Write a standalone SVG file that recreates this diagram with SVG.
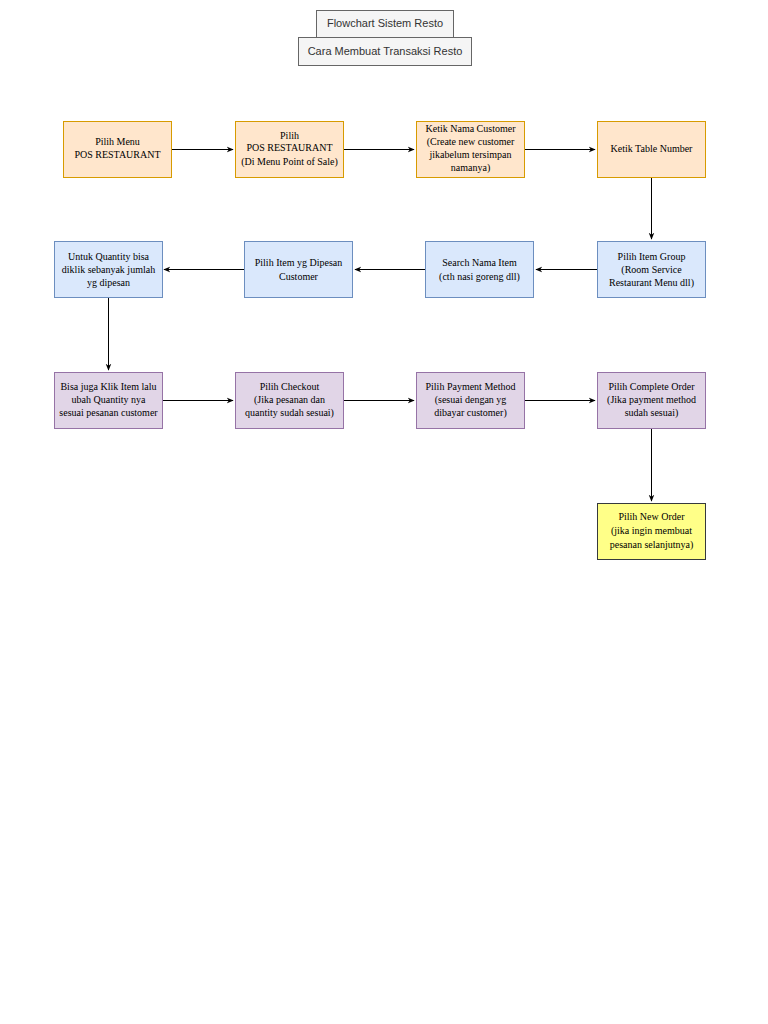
<svg xmlns="http://www.w3.org/2000/svg" width="768" height="1024" viewBox="0 0 768 1024">
<style>
.t{font-family:"Liberation Serif",serif;font-size:10px;fill:#000;text-anchor:middle}
.h{font-family:"Liberation Sans",Arial,sans-serif;font-size:11px;fill:#333;text-anchor:middle}
.o{fill:#ffe6cc;stroke:#d79b00}
.b{fill:#dae8fc;stroke:#6c8ebf}
.p{fill:#e1d5e7;stroke:#9673a6}
.y{fill:#ffff88;stroke:#36393d}
.g{fill:#f5f5f5;stroke:#666}
.c path{fill:none;stroke:#000;stroke-width:1;marker-end:url(#a)}
</style>
<defs><marker id="a" viewBox="0 0 10 10" refX="9" refY="5" markerWidth="7" markerHeight="7" orient="auto"><path d="M0,1 L10,5 L0,9 L3,5 z" fill="#000"/></marker></defs>
<rect width="768" height="1024" fill="#fff"/>
<g id="title1"><rect class="g" x="316.5" y="10.5" width="137" height="27"/><text class="h" x="385" y="27">Flowchart Sistem Resto</text></g>
<g id="title2"><rect class="g" x="298.5" y="37.5" width="173" height="28"/><text class="h" x="385" y="55">Cara Membuat Transaksi Resto</text></g>
<g class="c">
<path d="M172,149.5 H233"/><path d="M343,149.5 H414"/><path d="M524,149.5 H595"/>
<path d="M651.5,177 V239"/>
<path d="M597,269.5 H536"/><path d="M425,269.5 H355"/><path d="M244,269.5 H164"/>
<path d="M108.5,297 V370"/>
<path d="M162,400.5 H233"/><path d="M343,400.5 H414"/><path d="M524,400.5 H595"/>
<path d="M651.5,428 V501"/>
</g>
<g id="n1"><rect class="o" x="63.5" y="121.5" width="108" height="56"/><text class="t" x="117.5" y="145">Pilih Menu</text><text class="t" x="117.5" y="158">POS RESTAURANT</text></g>
<g id="n2"><rect class="o" x="235.5" y="121.5" width="108" height="56"/><text class="t" x="289.5" y="139">Pilih</text><text class="t" x="289.5" y="151">POS RESTAURANT</text><text class="t" x="289.5" y="165">(Di Menu Point of Sale)</text></g>
<g id="n3"><rect class="o" x="416.5" y="121.5" width="108" height="56"/><text class="t" x="470.5" y="132">Ketik Nama Customer</text><text class="t" x="470.5" y="145">(Create new customer</text><text class="t" x="470.5" y="158">jikabelum tersimpan</text><text class="t" x="470.5" y="171">namanya)</text></g>
<g id="n4"><rect class="o" x="597.5" y="121.5" width="108" height="56"/><text class="t" x="651.5" y="152">Ketik Table Number</text></g>
<g id="n5"><rect class="b" x="597.5" y="241.5" width="108" height="56"/><text class="t" x="651.5" y="260">Pilih Item Group</text><text class="t" x="651.5" y="273">(Room Service</text><text class="t" x="651.5" y="286">Restaurant Menu dll)</text></g>
<g id="n6"><rect class="b" x="425.5" y="241.5" width="108" height="56"/><text class="t" x="479.5" y="266">Search Nama Item</text><text class="t" x="479.5" y="280">(cth nasi goreng dll)</text></g>
<g id="n7"><rect class="b" x="244.5" y="241.5" width="108" height="56"/><text class="t" x="298.5" y="266">Pilih Item yg Dipesan</text><text class="t" x="298.5" y="280">Customer</text></g>
<g id="n8"><rect class="b" x="54.5" y="241.5" width="108" height="56"/><text class="t" x="108.5" y="260">Untuk Quantity bisa</text><text class="t" x="108.5" y="273">diklik sebanyak jumlah</text><text class="t" x="108.5" y="286">yg dipesan</text></g>
<g id="n9"><rect class="p" x="54.5" y="372.5" width="108" height="56"/><text class="t" x="108.5" y="390">Bisa juga Klik Item lalu</text><text class="t" x="108.5" y="403">ubah Quantity nya</text><text class="t" x="108.5" y="416">sesuai pesanan customer</text></g>
<g id="n10"><rect class="p" x="235.5" y="372.5" width="108" height="56"/><text class="t" x="289.5" y="390">Pilih Checkout</text><text class="t" x="289.5" y="403">(Jika pesanan dan</text><text class="t" x="289.5" y="416">quantity sudah sesuai)</text></g>
<g id="n11"><rect class="p" x="416.5" y="372.5" width="108" height="56"/><text class="t" x="470.5" y="390">Pilih Payment Method</text><text class="t" x="470.5" y="403">(sesuai dengan yg</text><text class="t" x="470.5" y="416">dibayar customer)</text></g>
<g id="n12"><rect class="p" x="597.5" y="372.5" width="108" height="56"/><text class="t" x="651.5" y="390">Pilih Complete Order</text><text class="t" x="651.5" y="403">(Jika payment method</text><text class="t" x="651.5" y="416">sudah sesuai)</text></g>
<g id="n13"><rect class="y" x="597.5" y="503.5" width="108" height="56"/><text class="t" x="651.5" y="520">Pilih New Order</text><text class="t" x="651.5" y="534">(jika ingin membuat</text><text class="t" x="651.5" y="548">pesanan selanjutnya)</text></g>
</svg>
